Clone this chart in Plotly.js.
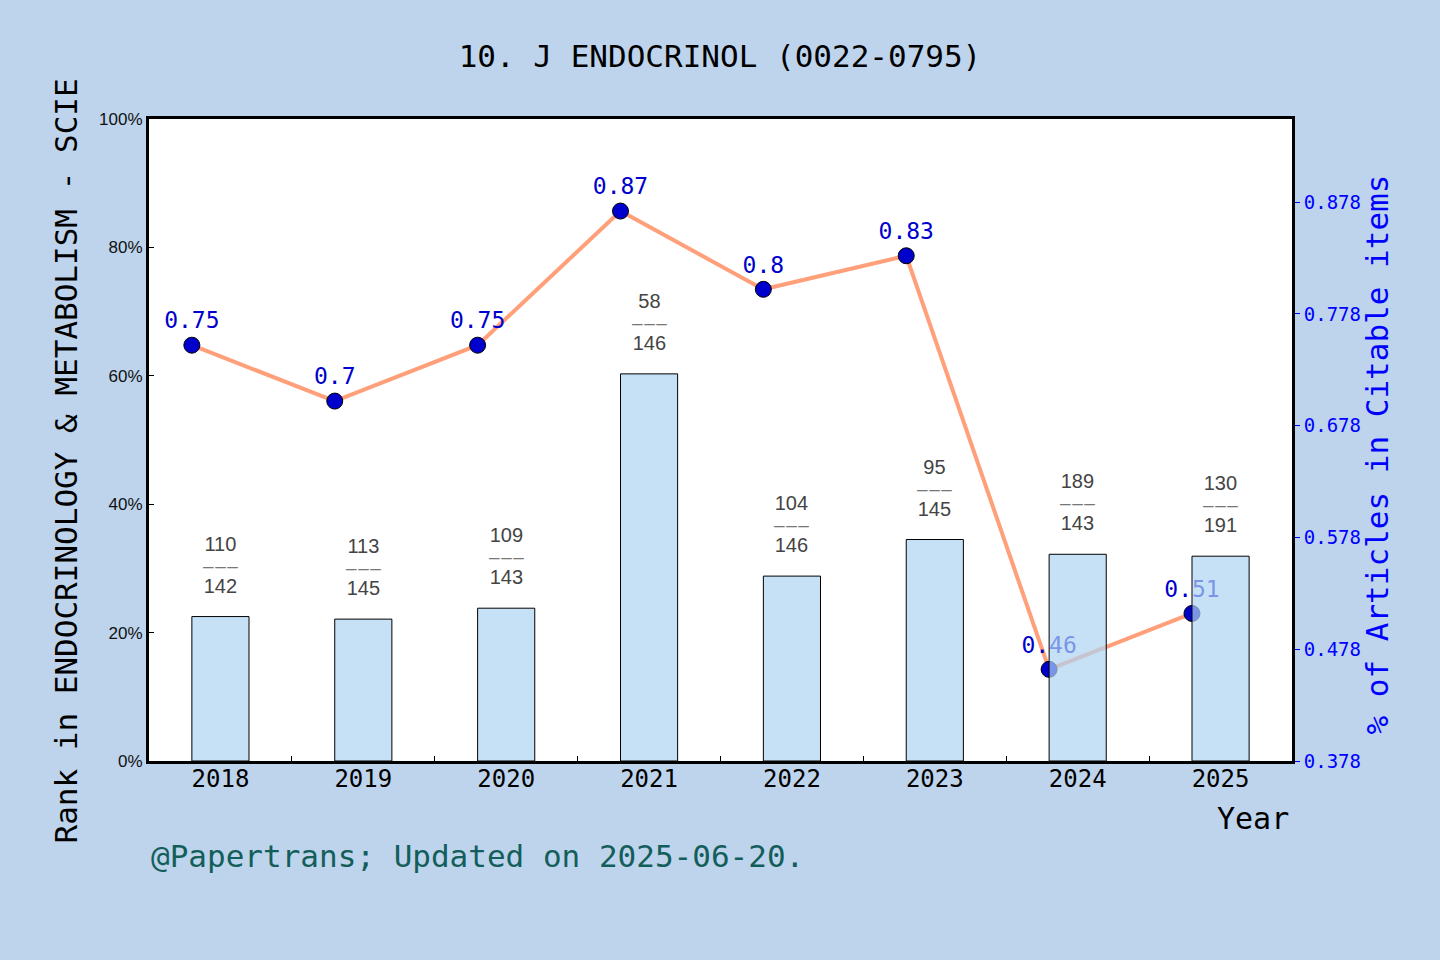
<!DOCTYPE html>
<html>
<head>
<meta charset="utf-8">
<script src="https://cdn.plot.ly/plotly-3.0.1.min.js"></script>
<style>
  html, body { margin: 0; padding: 0; background: #bdd4ec; }
  #chart { width: 1440px; height: 960px; outline: 1px solid #555; outline-offset: -1px; }
</style>
</head>
<body>
<div id="chart"></div>
<script>
const years = ['2018', '2019', '2020', '2021', '2022', '2023', '2024', '2025'];
const rankPct = [22.5, 22.1, 23.8, 60.3, 28.8, 34.5, 32.2, 31.9];
const ranks = [110, 113, 109, 58, 104, 95, 189, 130];
const totals = [142, 145, 143, 146, 146, 145, 143, 191];
const citableShare = [0.75, 0.70, 0.75, 0.87, 0.80, 0.83, 0.46, 0.51];
const citableLabels = ['0.75', '0.7', '0.75', '0.87', '0.8', '0.83', '0.46', '0.51'];
const rightTicks = [0.378, 0.478, 0.578, 0.678, 0.778, 0.878];
const leftTicks = [0, 20, 40, 60, 80, 100];

const MONO = 'DejaVu Sans Mono, monospace';
const SANS = 'Liberation Sans, Arial, sans-serif';
const BAR_W = 0.4;

const idx = years.map((_, i) => i);

const lineTrace = {
  type: 'scatter',
  x: idx.map(i => i - BAR_W / 2),
  y: citableShare,
  xaxis: 'x',
  yaxis: 'y',
  mode: 'lines+markers+text',
  text: citableLabels,
  textposition: 'top center',
  textfont: { family: MONO, size: 23, color: '#0000cd' },
  line: { color: '#ffa07a', width: 4 },
  marker: { color: '#0000cd', size: 16, line: { color: '#000', width: 1 } },
  hoverinfo: 'skip',
  cliponaxis: false,
  showlegend: false
};

const barTrace = {
  type: 'bar',
  x: idx,
  y: rankPct,
  xaxis: 'x',
  yaxis: 'y2',
  width: BAR_W,
  marker: { color: 'rgba(174,211,242,0.7)', line: { color: '#000', width: 1 } },
  hoverinfo: 'skip',
  showlegend: false
};

const DASH = '\u2013\u200A\u2013\u200A\u2013';
const annotations = idx.map(i => ({
  x: i, y: rankPct[i], xref: 'x', yref: 'y2',
  text: '<span style="font-size:20px">' + ranks[i] + '</span><br>' +
        '<span style="font-size:19px;fill:#777">' + DASH + '</span><br>' +
        '<span style="font-size:20px">' + totals[i] + '</span>',
  showarrow: false, yanchor: 'middle', xanchor: 'center',
  yshift: 52,
  font: { family: SANS, size: 16, color: '#444' }
}));
annotations.push({
  x: 0.0, y: -0.148, xref: 'paper', yref: 'paper',
  xanchor: 'left', yanchor: 'middle', showarrow: false,
  text: '@Papertrans; Updated on 2025-06-20.',
  font: { family: MONO, size: 31, color: '#135e5a' }
});
annotations.push({
  x: 0.966, y: -0.089, xref: 'paper', yref: 'paper',
  xanchor: 'center', yanchor: 'middle', showarrow: false,
  text: 'Year',
  font: { family: MONO, size: 30, color: '#000' }
});
annotations.push({
  x: (66 - 149) / 1143, y: (760 - 461) / 641, xref: 'paper', yref: 'paper',
  xanchor: 'center', yanchor: 'middle', showarrow: false, textangle: -90,
  text: 'Rank in ENDOCRINOLOGY & METABOLISM - SCIE',
  font: { family: MONO, size: 31, color: '#000' }
});
annotations.push({
  x: (1377 - 149) / 1143, y: (760 - 454) / 641, xref: 'paper', yref: 'paper',
  xanchor: 'center', yanchor: 'middle', showarrow: false, textangle: -90,
  text: '% of Articles in Citable items',
  font: { family: MONO, size: 31, color: '#0000ff' }
});

const layout = {
  width: 1440,
  height: 960,
  paper_bgcolor: '#bdd4ec',
  plot_bgcolor: '#ffffff',
  margin: { l: 149, r: 148, t: 119, b: 199, pad: 0 },
  title: {
    text: '10. J ENDOCRINOL (0022-0795)',
    x: 0.5, xanchor: 'center',
    y: 1 - 56 / 960, yanchor: 'middle',
    font: { family: MONO, size: 31, color: '#000' }
  },
  xaxis: {
    range: [-0.5, 7.5],
    tickvals: idx,
    ticktext: years,
    showgrid: false,
    zeroline: false,
    showline: true, linecolor: '#000', linewidth: 3, mirror: true,
    ticks: '',
    ticklabelstandoff: -6,
    minor: {
      tickvals: idx.slice(1).map(i => i - 0.5),
      ticks: 'inside', ticklen: 5, tickcolor: '#000', showgrid: false
    },
    tickfont: { family: MONO, size: 24, color: '#000' }
  },
  yaxis: {
    side: 'right',
    range: [0.378, 0.378 + 641 / 1116],
    tickvals: rightTicks,
    ticktext: rightTicks.map(v => v.toFixed(3)),
    showgrid: false, zeroline: false,
    showline: true, linecolor: '#000', linewidth: 3,
    ticks: 'outside', ticklen: 5, tickcolor: '#0000ff',
    tickfont: { family: MONO, size: 19, color: '#0000ff' }
  },
  yaxis2: {
    overlaying: 'y',
    side: 'left',
    range: [0, 100],
    tickvals: leftTicks,
    ticktext: leftTicks.map(v => v + '%'),
    showgrid: false, zeroline: false,
    showline: true, linecolor: '#000', linewidth: 3,
    ticks: 'inside', ticklen: 5, tickcolor: '#000',
    tickfont: { family: SANS, size: 17, color: '#111' }
  },
  annotations: annotations
};

Plotly.newPlot('chart', [lineTrace, barTrace], layout, { displayModeBar: false, staticPlot: true });
</script>
</body>
</html>
